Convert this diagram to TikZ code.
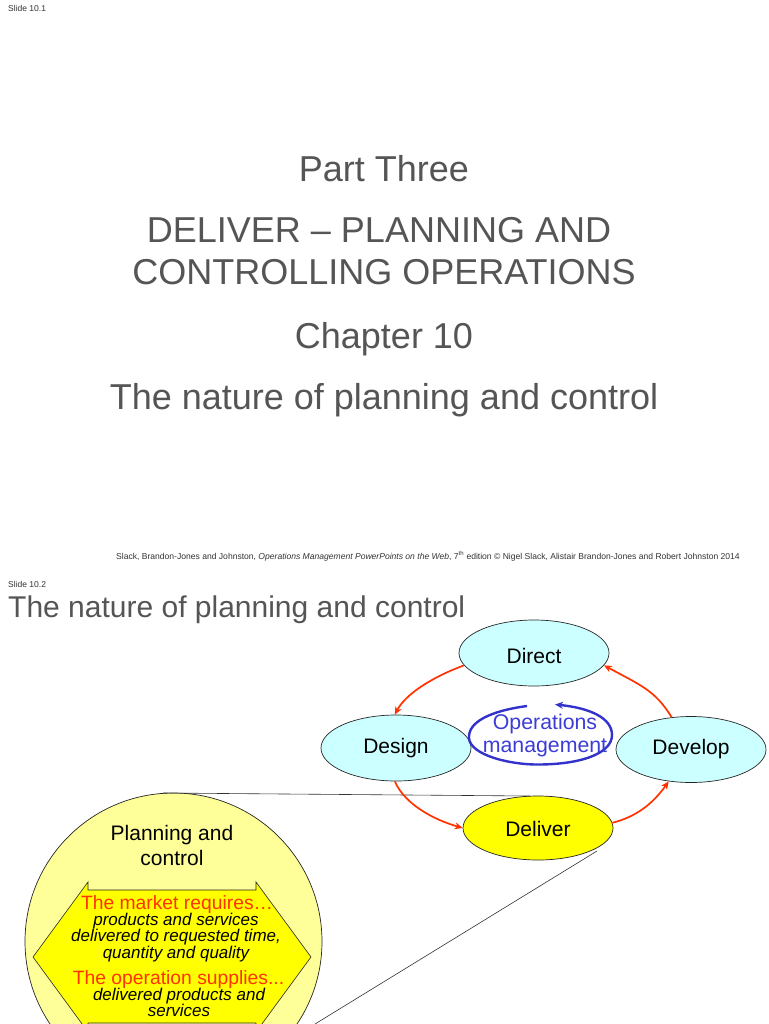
\documentclass[tikz,border=0pt]{standalone}
\usepackage{fontspec}
\setmainfont{Liberation Sans}
\usetikzlibrary{shapes.geometric,arrows.meta}
\definecolor{tgrey}{RGB}{85,85,85}
\definecolor{ocean}{RGB}{204,255,255}
\definecolor{paley}{RGB}{255,255,153}
\definecolor{pureyel}{RGB}{255,255,0}
\definecolor{redar}{RGB}{255,51,0}
\definecolor{bluear}{RGB}{51,51,204}
\definecolor{opst}{RGB}{60,60,215}
\tikzset{
  x=1pt,y=-1pt,
  title/.style={text=tgrey,font=\fontsize{36}{42}\selectfont,align=center,inner sep=0},
  oval/.style={ellipse,draw=black!85,line width=.7pt,minimum width=150pt,minimum height=66pt,inner sep=0,font=\fontsize{21}{24}\selectfont},
  cyc/.style={draw=redar,line width=1.7pt,-{Stealth[length=8pt,width=7pt]}},
  small/.style={font=\fontsize{8.5}{10}\selectfont,inner sep=0,text=black!80},
  red/.style={text=redar,font=\fontsize{19.3}{22}\selectfont,inner sep=0},
  ital/.style={text=black,font=\itshape\fontsize{17}{16.5}\selectfont,align=center,inner sep=0},
  zoomline/.style={draw=black!80,line width=.6pt}
}
\begin{document}
\begin{tikzpicture}
\useasboundingbox (0,0) rectangle (768,1024);
\clip (0,0) rectangle (768,1024);
\fill[white] (0,0) rectangle (768,1024);
% slide 1
\node[small,anchor=west] (s1) at (8,8) {Slide 10.1};
\node[title] (t1) at (384,168.5) {Part Three};
\node[title] (t2) at (384,251.5) {DELIVER -- PLANNING AND\hspace*{10pt}\\[0pt]CONTROLLING OPERATIONS};
\node[title] (t3) at (384,339) {Chapter 10};
\node[title] (t4) at (384,400.5) {The nature of planning and control};
\node[small,anchor=west,font=\fontsize{8.56}{10}\selectfont] (cr) at (116,556.5) {Slack, Brandon-Jones and Johnston, \textit{Operations Management PowerPoints on the Web}, 7\textsuperscript{th} edition © Nigel Slack, Alistair Brandon-Jones and Robert Johnston 2014};
% slide 2
\node[small,anchor=west] (s2) at (8,584.5) {Slide 10.2};
\node[title,anchor=west,font=\fontsize{30}{36}\selectfont] (t5) at (8,610) {The nature of planning and control};
% magnifier
\node[circle,draw=black!85,fill=paley,line width=.7pt,minimum size=297pt,inner sep=0] (big) at (173.5,941.5) {};
\coordinate (lt) at (163,793);
\coordinate (lr) at (530,796);
\coordinate (bl) at (315,1024);
\coordinate (br) at (597,851);
\draw[zoomline] (lt) -- (lr);
\draw[zoomline] (bl) -- (br);
% hexagon
\coordinate (hl) at (33,957);
\coordinate (hr) at (311,957);
\coordinate (ha) at (88,882);
\coordinate (hb) at (88,890);
\coordinate (hc) at (256,890);
\coordinate (hd) at (256,882);
\coordinate (he) at (256,1032);
\coordinate (hf) at (256,1023);
\coordinate (hg) at (88,1023);
\coordinate (hh) at (88,1032);
\draw[fill=pureyel,draw=black!85,line width=.6pt] (hl) -- (ha) -- (hb) -- (hc) -- (hd) -- (hr) -- (he) -- (hf) -- (hg) -- (hh) -- cycle;
\node[align=center,font=\fontsize{21}{25}\selectfont,inner sep=0] (pc) at (172,845) {Planning and\\control};
\node[red] (m1) at (177,904) {The market requires…};
\node[ital] (m2) at (176,937.5) {products and services\\delivered to requested time,\\quantity and quality};
\node[red] (m3) at (178.5,979) {The operation supplies...};
\node[ital] (m4) at (179,1002.5) {delivered products and\\services};
% cycle
\node[oval,fill=ocean,text height=20pt,text depth=0pt] (direct) at (534,653) {Direct};
\node[oval,fill=ocean] (design) at (396,748) {Design};
\node[oval,fill=ocean] (develop) at (691,749.5) {Develop};
\node[oval,fill=pureyel,minimum height=64pt,text height=17pt,text depth=0pt] (deliver) at (538,828) {Deliver};
\draw[cyc] (direct.190) .. controls (430,678) and (405,695) .. (design.92);
\draw[cyc] (design.268) .. controls (405,805) and (435,820) .. (deliver.180);
\draw[cyc] (deliver.4) .. controls (635,817) and (652,805) .. (develop.235);
\draw[cyc] (develop.121) .. controls (655,690) and (640,685) .. (direct.-10);
% inner loop
\coordinate (ia) at (527,706);
\coordinate (ib) at (555,704.5);
\draw[draw=bluear,line width=2.4pt,-{Stealth[length=8pt,width=7pt]}] (ia) .. controls (490,711) and (468,722) .. (469,738) .. controls (470,755) and (510,765) .. (540,764.5) .. controls (585,764) and (612,752) .. (612,735) .. controls (612,718) and (590,708) .. (ib);
\node[align=center,text=opst,font=\fontsize{21.3}{23}\selectfont,inner sep=0] (om) at (545,735) {Operations\\management};
\end{tikzpicture}
\end{document}
